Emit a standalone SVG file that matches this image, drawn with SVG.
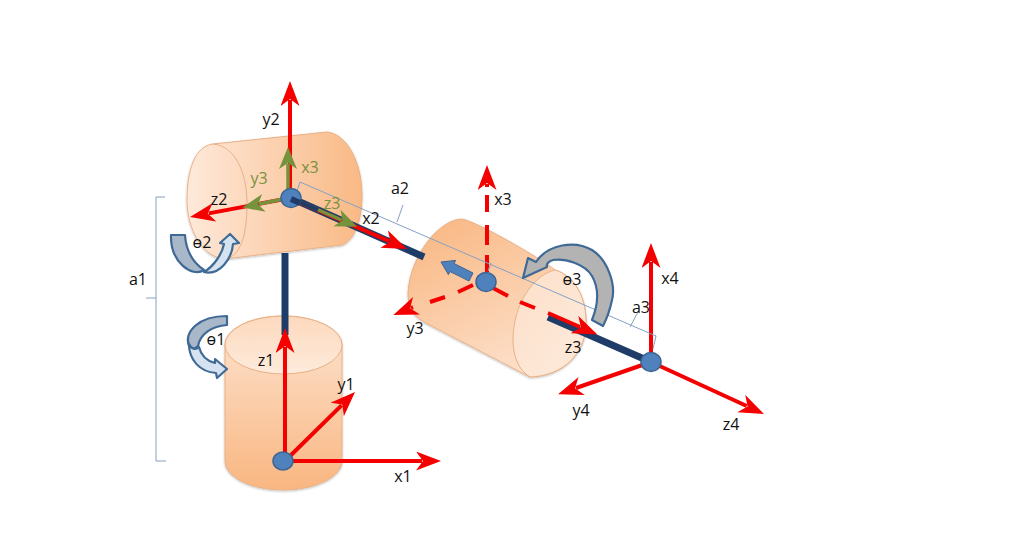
<svg xmlns="http://www.w3.org/2000/svg" width="1015" height="553" viewBox="0 0 1015 553">
<style>
text{font-family:"Open Sans","Noto Sans",sans-serif;font-size:16px;fill:#111;text-anchor:middle}
text.g{fill:#76923c}
.cyl{stroke:#e9b186;stroke-width:1}
.link{stroke:#1f3c68;stroke-width:7;fill:none}
.red{stroke:#f40000;stroke-width:4;fill:none}
.head{marker-end:url(#rh)}
.grn{stroke:#76923c;stroke-width:3.5;fill:none;marker-end:url(#gh)}
.br{stroke:#85a0c4;stroke-width:1;fill:none}
.joint{fill:#4f81bd;stroke:#3d6591;stroke-width:1.5}
.rot{stroke:#3f6a96;stroke-width:2.2;stroke-linejoin:round}
</style>
<defs>
<marker id="rh" markerUnits="userSpaceOnUse" markerWidth="26" markerHeight="20" refX="6" refY="9.500" orient="auto"><path d="M0,0 L25,9.500 L0,19 L7,9.500 Z" fill="#f40000"/></marker>
<marker id="gh" markerUnits="userSpaceOnUse" markerWidth="23" markerHeight="19" refX="5" refY="9" orient="auto"><path d="M0,0 L22,9 L0,18 L6,9 Z" fill="#76923c"/></marker>
<linearGradient id="gv" x1="0" y1="0" x2="0" y2="1"><stop offset="0" stop-color="#fde5d2"/><stop offset="1" stop-color="#f9b681"/></linearGradient>
<linearGradient id="gt" x1="0" y1="0" x2="0" y2="1"><stop offset="0" stop-color="#fdd9bd"/><stop offset="1" stop-color="#fdebdc"/></linearGradient>
<linearGradient id="gs" x1="0" y1="0" x2="1" y2="0"><stop offset="0" stop-color="#fee9da"/><stop offset="1" stop-color="#f9b985"/></linearGradient>
<linearGradient id="gd" x1="0.2" y1="0" x2="0.8" y2="1"><stop offset="0" stop-color="#f9b985"/><stop offset="1" stop-color="#fde4d2"/></linearGradient>
<linearGradient id="ge" x1="0" y1="0" x2="1" y2="1"><stop offset="0" stop-color="#fde0c9"/><stop offset="1" stop-color="#fdeadc"/></linearGradient>
<filter id="sh" x="-10%" y="-10%" width="120%" height="120%"><feDropShadow dx="0" dy="1" stdDeviation="1" flood-color="#000" flood-opacity="0.25"/></filter>
</defs>
<g id="cylinder-base">
<path class="cyl" filter="url(#sh)" fill="url(#gv)" d="M225,345 C225,329 251,316 283,316 C315,316 342,329 342,345 L342,461 C342,477 315,490 283,490 C251,490 225,477 225,461 Z"/>
<ellipse class="cyl" fill="url(#gt)" cx="283.500" cy="345" rx="58.500" ry="29"/>
</g>
<g id="cylinder-shoulder">
<path class="cyl" filter="url(#sh)" fill="url(#gs)" d="M213,144 L327,132 C348,134 362,164 362,195 C362,220 355,240 342,245 L224,259 C203,257 187,230 187,200 C187,170 195,146 213,144 Z"/>
<path class="cyl" fill="none" d="M213,144 C235,146 247,172 247,204 C247,236 240,258 224,259"/>
</g>
<g id="cylinder-elbow">
<path class="cyl" filter="url(#sh)" fill="url(#gd)" d="M462,219 C478,222 540,258 555,270 C575,276 587,298 586,325 C585,355 562,376 530,377 L424,322 C411,314 408,305 408,293 C410,255 440,219 462,219 Z"/>
<path class="cyl" fill="url(#ge)" d="M555,270 C575,276 587,298 586,325 C585,355 562,376 530,377 C518,370 513,355 513,340 C513,305 533,275 555,270 Z"/>
</g>
<g id="connectors">
<path class="link" d="M285,253 L285,335"/>
<path class="link" d="M291,198 L424,257"/>
<path class="link" d="M548,317 L651,362"/>
<path class="red head" d="M290,198 L290,100"/>
<path class="red head" d="M290,198 L208.700,213.400"/>
<path class="red head" d="M290,198 L389.600,241.400"/>
<path class="grn" d="M288,198 L288,164"/>
<path class="grn" d="M288,198 L259,204"/>
<path class="grn" d="M291,198 L341.600,220"/>
<path class="link" d="M291,198 L318,210" style="stroke-width:4"/>
<path class="red head" d="M285,461 L285,347"/>
<path class="red head" d="M285,461 L341.500,405.300"/>
<path class="red head" d="M285,461 L422,461"/>
<path class="red head" d="M487,187 L487,184"/>
<path class="red" d="M487,195 L487,212 M487,225 L487,245 M487,255 L487,272"/>
<path class="red head" d="M413,307.200 L411,308"/>
<path class="red" d="M430,302 L445,297 M458,292 L473,285"/>
<path class="red" d="M493,288 L508,296 M520,302 L535,308"/>
<path class="red head" d="M548,313 L580,327"/>
<path class="red head" d="M651,362 L651,262"/>
<path class="red head" d="M651,362 L576,388"/>
<path class="red head" d="M651,362 L746.700,406"/>
<path d="M473,273 L454,263.500 L455.600,260.400 L441,262 L448.400,274.600 L450,271.500 L469,281 Z" fill="#4f81bd" stroke="#3d6591" stroke-width="1"/>
<path class="br" d="M165,197 L156,197 L156,461 L166,461 M156,298 L146,298"/>
<path class="br" d="M297,191 L300,182 L656,336 L653,349 M397,222 L403,205 M630,327 L638,312 M491,263 L488,271"/>
</g>
<g id="rotation-1">
<path class="rot" fill="#a9b8c9" d="M227,316 L227,325 C212,326 200,334 198,346 C194,350 190,350 189,346 C184,332 198,316 227,316 Z"/>
<path class="rot" fill="#d5e2f0" d="M189,344 C192,350 196,350 199,347 C201,355 207,361 215,363 L215,359 L227,369 L217,378 L216,373 C200,372 189,360 189,344 Z"/>
</g>
<g id="rotation-2">
<path class="rot" fill="#a9b8c9" d="M171,235 L185,235 C186,250 192,262 204,270 C192,278 170,262 171,235 Z"/>
<path class="rot" fill="#d5e2f0" d="M204,272 C214,266 222,254 224,244 L220,243 L230,234 L239,243 L233,244 C232,258 220,276 204,272 Z"/>
</g>
<g id="rotation-3">
<path class="rot" fill="#b3b3b3" d="M523,278 L528,258 L536,262 C548,244 575,240 592,250 C608,260 616,285 612,300 C610,310 606,320 603,326 L592,320 C598,305 600,290 592,276 C585,264 565,258 553,260 C549,261 546,264 547,267 Z"/>
</g>
<g id="joint-1"><ellipse class="joint" cx="283" cy="461" rx="10" ry="9"/></g>
<g id="joint-2"><ellipse class="joint" cx="291" cy="198" rx="10" ry="9.500"/><path class="link" d="M291,199 L300,203" style="stroke-width:6"/></g>
<g id="joint-3"><ellipse class="joint" cx="486" cy="282" rx="10" ry="9.500"/></g>
<g id="joint-4"><ellipse class="joint" cx="651" cy="362" rx="10" ry="9.500"/></g>
<g id="labels">
<text x="271" y="125">y2</text>
<text class="g" x="310" y="173">x3</text>
<text class="g" x="259" y="184">y3</text>
<text x="219" y="205">z2</text>
<text class="g" x="332" y="209">z3</text>
<text x="400" y="194">a2</text>
<text x="371" y="224">x2</text>
<text x="503" y="205">x3</text>
<text x="138" y="285">a1</text>
<text x="202" y="248">ө2</text>
<text x="216" y="345">ө1</text>
<text x="266" y="366">z1</text>
<text x="346" y="390">y1</text>
<text x="403" y="482">x1</text>
<text x="415" y="334">y3</text>
<text x="572" y="285">ө3</text>
<text x="573" y="353">z3</text>
<text x="641" y="313">a3</text>
<text x="670" y="284">x4</text>
<text x="581" y="416">y4</text>
<text x="731" y="430">z4</text>
</g>
</svg>
